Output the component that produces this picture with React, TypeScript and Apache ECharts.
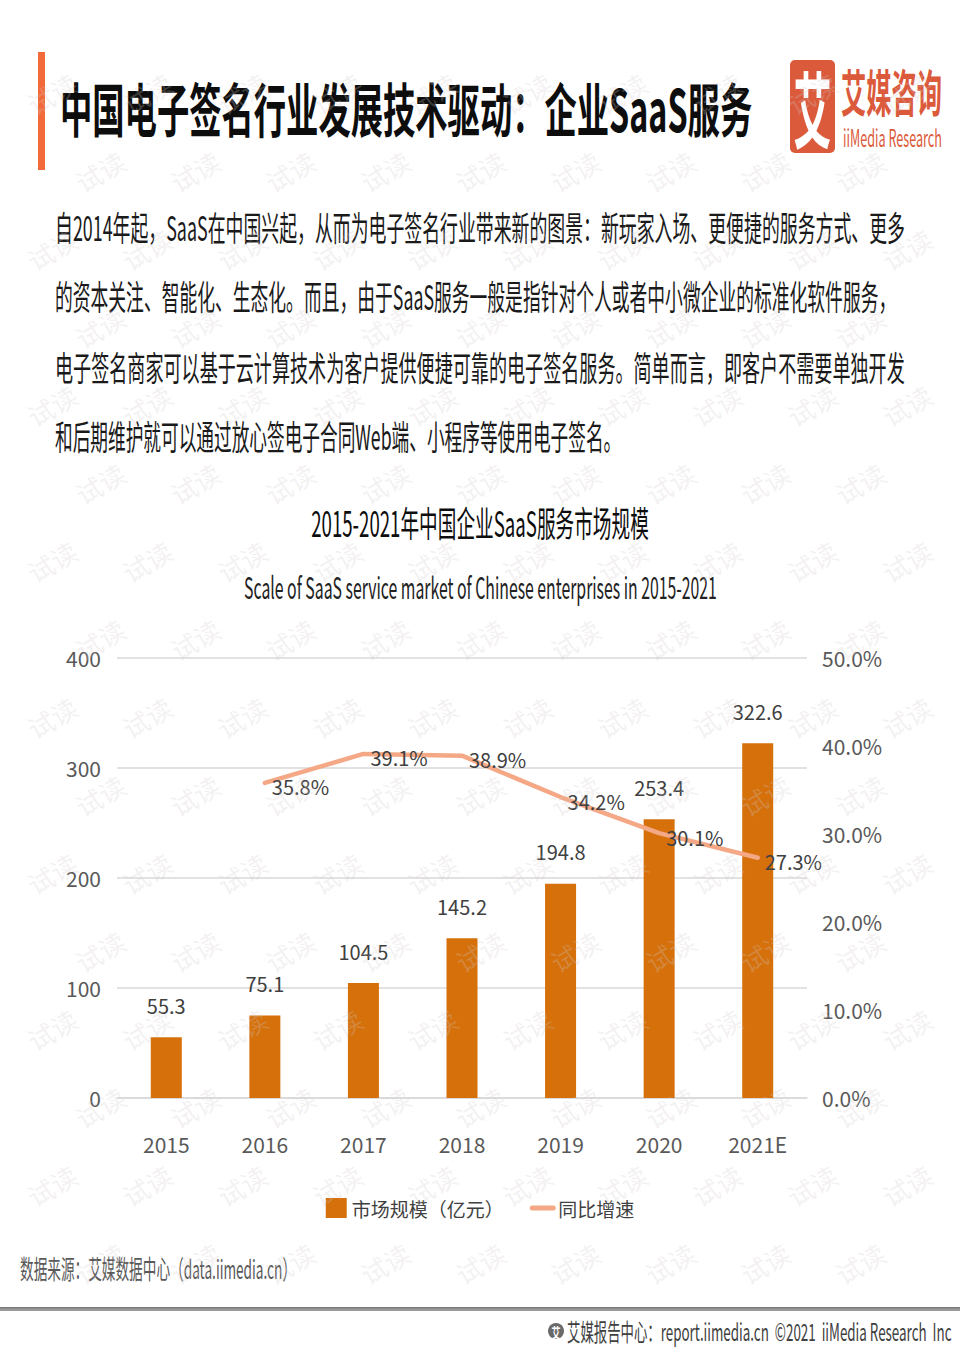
import React, { useEffect, useRef } from "react";
import * as echarts from "echarts";

// ---------- data ----------
const years = ["2015", "2016", "2017", "2018", "2019", "2020", "2021E"];
const marketSize = [55.3, 75.1, 104.5, 145.2, 194.8, 253.4, 322.6];
const growthRate: (number | string)[] = ["-", 35.8, 39.1, 38.9, 34.2, 30.1, 27.3];
const seriesNames = ["市场规模（亿元）", "同比增速"];
const leftAxis = { min: 0, max: 400, interval: 100 };
const rightAxis = { min: 0, max: 50, interval: 10 };

const pageTitle = "中国电子签名行业发展技术驱动：企业SaaS服务";
const paragraphLines = [
  "自2014年起，SaaS在中国兴起，从而为电子签名行业带来新的图景：新玩家入场、更便捷的服务方式、更多",
  "的资本关注、智能化、生态化。而且，由于SaaS服务一般是指针对个人或者中小微企业的标准化软件服务，",
  "电子签名商家可以基于云计算技术为客户提供便捷可靠的电子签名服务。简单而言，即客户不需要单独开发",
  "和后期维护就可以通过放心签电子合同Web端、小程序等使用电子签名。",
];
const chartTitle = "2015-2021年中国企业SaaS服务市场规模";
const chartSubtitle = "Scale of SaaS service market of Chinese enterprises in 2015-2021";
const sourceText = "数据来源：艾媒数据中心（data.iimedia.cn）";
const footerText = "艾媒报告中心：report.iimedia.cn  ©2021  iiMedia Research  Inc";
const logoCn = "艾媒咨询";
const logoEn = "iiMedia Research";
const watermarkText = "试读";

// ---------- styling ----------
const FONT = "'Noto Sans CJK SC', 'Noto Sans', sans-serif";
const NUM_FONT = "'Noto Sans CJK SC', 'Noto Sans', sans-serif";
const BAR_COLOR = "#D5700B";
const LINE_COLOR = "#F4A886";
const LOGO_COLOR = "#DB5A3B";

function measureWidth(text: string, size: number, weight: string, family: string) {
  const ctx = document.createElement("canvas").getContext("2d")!;
  ctx.font = `${weight} ${size}px ${family}`;
  return ctx.measureText(text).width;
}

function fitText(
  text: string,
  x: number,
  y: number,
  width: number,
  size: number,
  opts: { weight?: string; family?: string; fill?: string; align?: string; scaleY?: number; z?: number } = {}
) {
  const weight = opts.weight || "normal";
  const family = opts.family || FONT;
  const w = measureWidth(text, size, weight, family);
  return {
    type: "text",
    x,
    y,
    scaleX: width / w,
    scaleY: opts.scaleY || 1,
    silent: true,
    z: opts.z ?? 10,
    style: {
      text,
      fontSize: size,
      fontWeight: weight,
      fontFamily: family,
      fill: opts.fill || "#1a1a1a",
      textAlign: opts.align || "left",
      textVerticalAlign: "middle",
    },
  };
}

function buildGraphics() {
  const g: any[] = [];
  // left accent bar
  g.push({ type: "rect", silent: true, shape: { x: 38, y: 52, width: 7, height: 118 }, style: { fill: "#F26A3A" } });
  // page title
  g.push(fitText(pageTitle, 60, 107, 692, 58, { weight: "bold", fill: "#0d0d0d" }));
  // logo
  g.push({ type: "rect", silent: true, shape: { x: 790, y: 60, width: 45, height: 93, r: 5 }, style: { fill: LOGO_COLOR } });
  g.push(fitText("艾", 812.5, 106, 38, 72, { weight: "bold", fill: "#ffffff", align: "center", scaleY: 1.15 }));
  g.push(fitText(logoCn, 841, 90, 101, 50, { weight: "bold", fill: LOGO_COLOR }));
  g.push(fitText(logoEn, 843, 137, 99, 24, { fill: LOGO_COLOR }));
  // paragraph
  const lineWidths = [850, 842, 850, 567];
  paragraphLines.forEach((t, i) => {
    g.push(fitText(t, 55, 226 + i * 70, lineWidths[i], 34, { fill: "#1a1a1a" }));
  });
  // chart titles
  g.push(fitText(chartTitle, 480, 521, 338, 35, { fill: "#0d0d0d", align: "center" }));
  g.push(fitText(chartSubtitle, 480.5, 586, 473, 30, { fill: "#222222", align: "center" }));
  // source
  g.push(fitText(sourceText, 20, 1268, 276, 26, { fill: "#595959" }));
  // footer rule
  g.push({ type: "rect", silent: true, shape: { x: 0, y: 1307, width: 960, height: 4 }, style: { fill: "#9a9a9a" } });
  g.push({ type: "rect", silent: true, shape: { x: 0, y: 1307, width: 960, height: 1.5 }, style: { fill: "#7a7a7a" } });
  // footer icon + text
  g.push({ type: "circle", silent: true, shape: { cx: 556, cy: 1331, r: 8 }, style: { fill: "#6a6a6a" } });
  g.push(fitText("艾", 556, 1331, 9, 14, { fill: "#ffffff", align: "center", weight: "bold" }));
  g.push(fitText(footerText, 567, 1331, 385, 24, { fill: "#404040" }));
  // watermark (only copies lying fully inside the page)
  for (let r = 0; r < 18; r++) {
    for (let c = 0; c < 11; c++) {
      const x = 5 + c * 95 + (r % 2 ? 47 : 0);
      const y = 15 + r * 78;
      if (x < 34 || x > 926 || y < 30 || y > 1328) continue;
      g.push({
        type: "text",
        x,
        y,
        rotation: Math.PI / 6,
        silent: true,
        z: 100,
        style: {
          text: watermarkText,
          fontSize: 26,
          fontFamily: FONT,
          fill: "rgba(210,200,200,0.26)",
          textAlign: "center",
          textVerticalAlign: "middle",
        },
      });
    }
  }
  return g;
}

export default function App() {
  const ref = useRef<HTMLDivElement>(null);
  useEffect(() => {
    if (!ref.current) return;
    const chart = echarts.init(ref.current, undefined, { renderer: "svg" });
    const labelStyle = { color: "#404040", fontSize: 20, fontFamily: NUM_FONT };
    chart.setOption({
      animation: false,
      backgroundColor: "#ffffff",
      textStyle: { fontFamily: FONT },
      grid: { left: 117, right: 153, top: 658, bottom: 259, containLabel: false },
      legend: {
        top: 1193,
        left: "center",
        itemWidth: 21,
        itemHeight: 20,
        itemGap: 26,
        textStyle: { color: "#404040", fontSize: 19, fontFamily: FONT },
        data: [
          { name: seriesNames[0], icon: "rect" },
          {
            name: seriesNames[1],
            itemStyle: { opacity: 0 },
            lineStyle: { width: 5, color: LINE_COLOR, cap: "round" },
          },
        ],
      },
      xAxis: {
        type: "category",
        data: years,
        axisTick: { show: false },
        axisLine: { lineStyle: { color: "#D9D9D9", width: 1.5 } },
        axisLabel: { ...labelStyle, fontSize: 21, color: "#595959", margin: 35 },
      },
      yAxis: [
        {
          type: "value",
          ...leftAxis,
          axisLine: { show: false },
          axisTick: { show: false },
          axisLabel: { ...labelStyle, fontSize: 21, color: "#595959", margin: 16 },
          splitLine: { lineStyle: { color: "#D9D9D9", width: 1.5 } },
        },
        {
          type: "value",
          ...rightAxis,
          axisLine: { show: false },
          axisTick: { show: false },
          axisLabel: {
            ...labelStyle,
            fontSize: 21,
            color: "#595959",
            margin: 15,
            formatter: (v: number) => v.toFixed(1) + "%",
          },
          splitLine: { show: false },
        },
      ],
      series: [
        {
          name: seriesNames[0],
          type: "bar",
          data: marketSize,
          barWidth: 31,
          itemStyle: { color: BAR_COLOR },
          label: { show: true, position: "top", distance: 22, ...labelStyle },
        },
        {
          name: seriesNames[1],
          type: "line",
          yAxisIndex: 1,
          data: growthRate,
          symbol: "circle",
          symbolSize: 2,
          itemStyle: { color: LINE_COLOR },
          lineStyle: { color: LINE_COLOR, width: 4.5, cap: "round" },
          label: {
            show: true,
            position: "right",
            distance: 6,
            offset: [0, 4],
            ...labelStyle,
            formatter: (p: any) => p.value.toFixed(1) + "%",
          },
          z: 3,
        },
      ],
      graphic: { elements: buildGraphics() },
    });
    return () => chart.dispose();
  }, []);
  return (
    <div
      ref={ref}
      style={{ position: "absolute", left: 0, top: 0, width: 960, height: 1357 }}
    />
  );
}
